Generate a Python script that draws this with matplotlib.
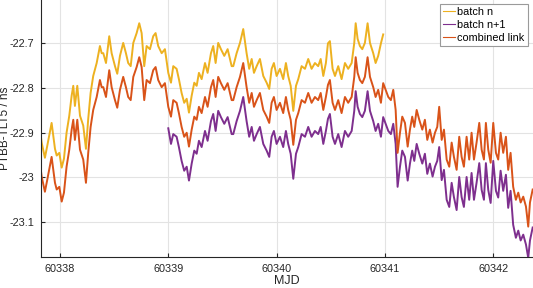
import numpy as np
import matplotlib
matplotlib.use("Agg")
import matplotlib.pyplot as plt

plt.rcParams['font.family'] = ['Liberation Sans', 'DejaVu Sans']
plt.rcParams['axes.unicode_minus'] = False

# (MJD, ns)
combined_link = [
    (60337.815, -22.967), (60337.831, -22.998), (60337.861, -23.032), (60337.883, -23.005),
    (60337.923, -22.954), (60337.954, -23.012), (60337.970, -23.027), (60337.994, -23.021),
    (60338.016, -23.054), (60338.037, -23.034), (60338.061, -22.976), (60338.086, -22.938),
    (60338.108, -22.893), (60338.123, -22.871), (60338.138, -22.916), (60338.160, -22.871),
    (60338.185, -22.938), (60338.215, -22.960), (60338.240, -23.012), (60338.261, -22.945),
    (60338.283, -22.887), (60338.307, -22.849), (60338.339, -22.820), (60338.369, -22.782),
    (60338.385, -22.798), (60338.400, -22.798), (60338.425, -22.820), (60338.455, -22.760),
    (60338.477, -22.798), (60338.508, -22.827), (60338.529, -22.844), (60338.554, -22.804),
    (60338.584, -22.775), (60338.609, -22.798), (60338.630, -22.820), (60338.653, -22.827),
    (60338.677, -22.775), (60338.708, -22.753), (60338.732, -22.731), (60338.754, -22.753),
    (60338.778, -22.827), (60338.800, -22.782), (60338.831, -22.789), (60338.861, -22.760),
    (60338.883, -22.753), (60338.907, -22.782), (60338.939, -22.798), (60338.969, -22.789),
    (60339.000, -22.842), (60339.025, -22.864), (60339.046, -22.827), (60339.077, -22.833),
    (60339.098, -22.856), (60339.123, -22.887), (60339.147, -22.909), (60339.170, -22.900),
    (60339.191, -22.931), (60339.216, -22.893), (60339.240, -22.864), (60339.262, -22.871),
    (60339.283, -22.842), (60339.308, -22.856), (60339.339, -22.820), (60339.363, -22.842),
    (60339.394, -22.798), (60339.415, -22.782), (60339.437, -22.820), (60339.461, -22.775),
    (60339.486, -22.789), (60339.517, -22.804), (60339.548, -22.789), (60339.585, -22.827),
    (60339.600, -22.827), (60339.631, -22.798), (60339.662, -22.775), (60339.692, -22.744),
    (60339.723, -22.798), (60339.747, -22.833), (60339.770, -22.811), (60339.791, -22.842),
    (60339.816, -22.827), (60339.846, -22.811), (60339.877, -22.849), (60339.908, -22.864),
    (60339.932, -22.878), (60339.954, -22.833), (60339.975, -22.820),
    (60340.000, -22.849), (60340.031, -22.833), (60340.061, -22.856), (60340.086, -22.820),
    (60340.107, -22.849), (60340.130, -22.871), (60340.154, -22.927), (60340.179, -22.871),
    (60340.200, -22.856), (60340.231, -22.827), (60340.262, -22.833), (60340.292, -22.811),
    (60340.323, -22.833), (60340.354, -22.820), (60340.384, -22.827), (60340.407, -22.811),
    (60340.431, -22.849), (60340.455, -22.820), (60340.474, -22.793), (60340.492, -22.782),
    (60340.517, -22.833), (60340.539, -22.849), (60340.569, -22.827), (60340.600, -22.856),
    (60340.631, -22.820), (60340.661, -22.833), (60340.693, -22.820), (60340.717, -22.775),
    (60340.730, -22.731), (60340.748, -22.766), (60340.769, -22.782), (60340.791, -22.789),
    (60340.815, -22.775), (60340.840, -22.731), (60340.862, -22.775), (60340.892, -22.798),
    (60340.914, -22.820), (60340.938, -22.804), (60340.963, -22.833), (60340.984, -22.789),
    (60341.007, -22.804), (60341.031, -22.820), (60341.055, -22.827), (60341.077, -22.804),
    (60341.099, -22.849), (60341.117, -22.945), (60341.139, -22.900), (60341.160, -22.864),
    (60341.185, -22.878), (60341.210, -22.931), (60341.231, -22.893), (60341.252, -22.864),
    (60341.271, -22.887), (60341.293, -22.849), (60341.317, -22.871), (60341.345, -22.893),
    (60341.369, -22.871), (60341.391, -22.916), (60341.415, -22.893), (60341.440, -22.922),
    (60341.462, -22.900), (60341.483, -22.887), (60341.501, -22.842), (60341.524, -22.916),
    (60341.545, -22.893), (60341.570, -22.960), (60341.594, -22.976), (60341.616, -22.922),
    (60341.637, -22.954), (60341.662, -22.983), (60341.686, -22.909), (60341.708, -22.954),
    (60341.729, -22.976), (60341.754, -22.909), (60341.778, -22.960), (60341.800, -22.900),
    (60341.822, -22.960), (60341.846, -22.922), (60341.871, -22.878), (60341.893, -22.938),
    (60341.914, -22.960), (60341.932, -22.878), (60341.954, -22.938), (60341.976, -22.967),
    (60342.000, -22.878), (60342.025, -22.945), (60342.046, -22.960), (60342.068, -22.900),
    (60342.092, -22.945), (60342.117, -22.909), (60342.138, -22.983), (60342.160, -22.945),
    (60342.184, -23.021), (60342.209, -23.050), (60342.231, -23.034), (60342.253, -23.056),
    (60342.277, -23.043), (60342.302, -23.065), (60342.323, -23.110), (60342.339, -23.056),
    (60342.364, -23.027),
]

batch_n = [
    (60337.815, -22.891), (60337.831, -22.922), (60337.861, -22.956), (60337.883, -22.929),
    (60337.923, -22.878), (60337.954, -22.936), (60337.970, -22.951), (60337.994, -22.945),
    (60338.016, -22.978), (60338.037, -22.958), (60338.061, -22.900), (60338.086, -22.862),
    (60338.108, -22.817), (60338.123, -22.795), (60338.138, -22.840), (60338.160, -22.795),
    (60338.185, -22.862), (60338.215, -22.884), (60338.240, -22.936), (60338.261, -22.869),
    (60338.283, -22.811), (60338.307, -22.773), (60338.339, -22.744), (60338.369, -22.706),
    (60338.385, -22.722), (60338.400, -22.722), (60338.425, -22.744), (60338.455, -22.684),
    (60338.477, -22.722), (60338.508, -22.751), (60338.529, -22.768), (60338.554, -22.728),
    (60338.584, -22.699), (60338.609, -22.722), (60338.630, -22.744), (60338.653, -22.751),
    (60338.677, -22.699), (60338.708, -22.677), (60338.732, -22.655), (60338.754, -22.677),
    (60338.778, -22.751), (60338.800, -22.706), (60338.831, -22.713), (60338.861, -22.684),
    (60338.883, -22.677), (60338.907, -22.706), (60338.939, -22.722), (60338.969, -22.713),
    (60339.000, -22.766), (60339.025, -22.788), (60339.046, -22.751), (60339.077, -22.757),
    (60339.098, -22.780), (60339.123, -22.811), (60339.147, -22.833), (60339.170, -22.824),
    (60339.191, -22.855), (60339.216, -22.817), (60339.240, -22.788), (60339.262, -22.795),
    (60339.283, -22.766), (60339.308, -22.780), (60339.339, -22.744), (60339.363, -22.766),
    (60339.394, -22.722), (60339.415, -22.706), (60339.437, -22.744), (60339.461, -22.699),
    (60339.486, -22.713), (60339.517, -22.728), (60339.548, -22.713), (60339.585, -22.751),
    (60339.600, -22.751), (60339.631, -22.722), (60339.662, -22.699), (60339.692, -22.668),
    (60339.723, -22.722), (60339.747, -22.757), (60339.770, -22.735), (60339.791, -22.766),
    (60339.816, -22.751), (60339.846, -22.735), (60339.877, -22.773), (60339.908, -22.788),
    (60339.932, -22.802), (60339.954, -22.757), (60339.975, -22.744),
    (60340.000, -22.773), (60340.031, -22.757), (60340.061, -22.780), (60340.086, -22.744),
    (60340.107, -22.773), (60340.130, -22.795), (60340.154, -22.851), (60340.179, -22.795),
    (60340.200, -22.780), (60340.231, -22.751), (60340.262, -22.757), (60340.292, -22.735),
    (60340.323, -22.757), (60340.354, -22.744), (60340.384, -22.751), (60340.407, -22.735),
    (60340.431, -22.773), (60340.455, -22.744), (60340.474, -22.700), (60340.492, -22.695),
    (60340.517, -22.757), (60340.539, -22.773), (60340.569, -22.751), (60340.600, -22.780),
    (60340.631, -22.744), (60340.661, -22.757), (60340.693, -22.744), (60340.717, -22.699),
    (60340.730, -22.655), (60340.748, -22.690), (60340.769, -22.706), (60340.791, -22.713),
    (60340.815, -22.699), (60340.840, -22.655), (60340.862, -22.699), (60340.892, -22.722),
    (60340.914, -22.744), (60340.938, -22.728), (60340.963, -22.700), (60340.984, -22.680),
]

batch_n1 = [
    (60339.000, -22.890), (60339.025, -22.925), (60339.046, -22.903), (60339.077, -22.909),
    (60339.098, -22.932), (60339.123, -22.963), (60339.147, -22.985), (60339.170, -22.976),
    (60339.191, -23.007), (60339.216, -22.969), (60339.240, -22.940), (60339.262, -22.947),
    (60339.283, -22.918), (60339.308, -22.932), (60339.339, -22.896), (60339.363, -22.918),
    (60339.394, -22.874), (60339.415, -22.858), (60339.437, -22.896), (60339.461, -22.851),
    (60339.486, -22.865), (60339.517, -22.880), (60339.548, -22.865), (60339.585, -22.903),
    (60339.600, -22.903), (60339.631, -22.874), (60339.662, -22.851), (60339.692, -22.820),
    (60339.723, -22.874), (60339.747, -22.909), (60339.770, -22.887), (60339.791, -22.918),
    (60339.816, -22.903), (60339.846, -22.887), (60339.877, -22.925), (60339.908, -22.940),
    (60339.932, -22.954), (60339.954, -22.909), (60339.975, -22.896),
    (60340.000, -22.925), (60340.031, -22.909), (60340.061, -22.932), (60340.086, -22.896),
    (60340.107, -22.925), (60340.130, -22.947), (60340.154, -23.003), (60340.179, -22.947),
    (60340.200, -22.932), (60340.231, -22.903), (60340.262, -22.909), (60340.292, -22.887),
    (60340.323, -22.909), (60340.354, -22.896), (60340.384, -22.903), (60340.407, -22.887),
    (60340.431, -22.925), (60340.455, -22.896), (60340.474, -22.869), (60340.492, -22.858),
    (60340.517, -22.909), (60340.539, -22.925), (60340.569, -22.903), (60340.600, -22.932),
    (60340.631, -22.896), (60340.661, -22.909), (60340.693, -22.896), (60340.717, -22.851),
    (60340.730, -22.807), (60340.748, -22.842), (60340.769, -22.858), (60340.791, -22.865),
    (60340.815, -22.851), (60340.840, -22.807), (60340.862, -22.851), (60340.892, -22.874),
    (60340.914, -22.896), (60340.938, -22.880), (60340.963, -22.909), (60340.984, -22.865),
    (60341.007, -22.880), (60341.031, -22.896), (60341.055, -22.903), (60341.077, -22.880),
    (60341.099, -22.925), (60341.117, -23.021), (60341.139, -22.976), (60341.160, -22.940),
    (60341.185, -22.954), (60341.210, -23.007), (60341.231, -22.969), (60341.252, -22.940),
    (60341.271, -22.963), (60341.293, -22.925), (60341.317, -22.947), (60341.345, -22.969),
    (60341.369, -22.947), (60341.391, -22.992), (60341.415, -22.969), (60341.440, -22.998),
    (60341.462, -22.976), (60341.483, -22.963), (60341.501, -22.932), (60341.524, -23.006),
    (60341.545, -22.983), (60341.570, -23.050), (60341.594, -23.066), (60341.616, -23.012),
    (60341.637, -23.044), (60341.662, -23.073), (60341.686, -22.999), (60341.708, -23.044),
    (60341.729, -23.066), (60341.754, -22.999), (60341.778, -23.050), (60341.800, -22.990),
    (60341.822, -23.050), (60341.846, -23.012), (60341.871, -22.968), (60341.893, -23.028),
    (60341.914, -23.050), (60341.932, -22.968), (60341.954, -23.028), (60341.976, -23.057),
    (60342.000, -22.963), (60342.025, -23.030), (60342.046, -23.045), (60342.068, -22.985),
    (60342.092, -23.030), (60342.117, -22.994), (60342.138, -23.068), (60342.160, -23.030),
    (60342.184, -23.106), (60342.209, -23.135), (60342.231, -23.119), (60342.253, -23.141),
    (60342.277, -23.128), (60342.302, -23.150), (60342.323, -23.180), (60342.339, -23.141),
    (60342.364, -23.112),
]

x_ticks = [60338, 60339, 60340, 60341, 60342]
y_ticks = [-23.1, -23.0, -22.9, -22.8, -22.7]
y_tick_labels = ["-23.1", "-23", "-22.9", "-22.8", "-22.7"]

series = [("batch n", batch_n, "#EDB120"),
          ("batch n+1", batch_n1, "#7E2F8E"),
          ("combined link", combined_link, "#D95319")]

fig = plt.figure(figsize=(5.33, 2.88), dpi=100)
ax = fig.add_axes([41/533, 31/288, 492/533, 257/288])

for name, pts, col in series:
    arr = np.array(pts)
    ax.plot(arr[:, 0], arr[:, 1], color=col, lw=1.4, label=name)

ax.set_xlim(60337.825, 60342.367)
ax.set_ylim(-23.178, -22.603)
ax.set_xticks(x_ticks)
ax.set_xticklabels([str(t) for t in x_ticks])
ax.set_yticks(y_ticks)
ax.set_yticklabels(y_tick_labels)
ax.grid(True, color="#e3e3e3", lw=0.8)
ax.set_axisbelow(True)
ax.tick_params(direction="in", length=3, labelsize=7.8, colors="#262626")
ax.tick_params(axis="y", pad=5)
ax.tick_params(axis="x", pad=5)
for s in ["top", "right"]:
    ax.spines[s].set_visible(False)
for s in ["left", "bottom"]:
    ax.spines[s].set_color("#262626")
    ax.spines[s].set_linewidth(0.8)

ax.set_xlabel("MJD", fontsize=9, color="#262626")
ax.xaxis.set_label_coords(0.5, -(275 - 257) / 257)
ax.set_ylabel("PTBB-TLT5 / ns", fontsize=8.5, color="#262626")
ax.yaxis.set_label_coords(-(41 - 11) / 492, 0.5)

leg = ax.legend(loc="upper right", bbox_to_anchor=(1 - 5/492, 1 - 4/257),
                fontsize=7.8, frameon=True, fancybox=False, framealpha=1,
                edgecolor="#9a9a9a", handlelength=1.1, handletextpad=0.2,
                borderpad=0.3, labelspacing=0.25, borderaxespad=0)
leg.get_frame().set_linewidth(0.8)
for line in leg.get_lines():
    line.set_linewidth(0.8)

fig.savefig("out.png", dpi=100)
